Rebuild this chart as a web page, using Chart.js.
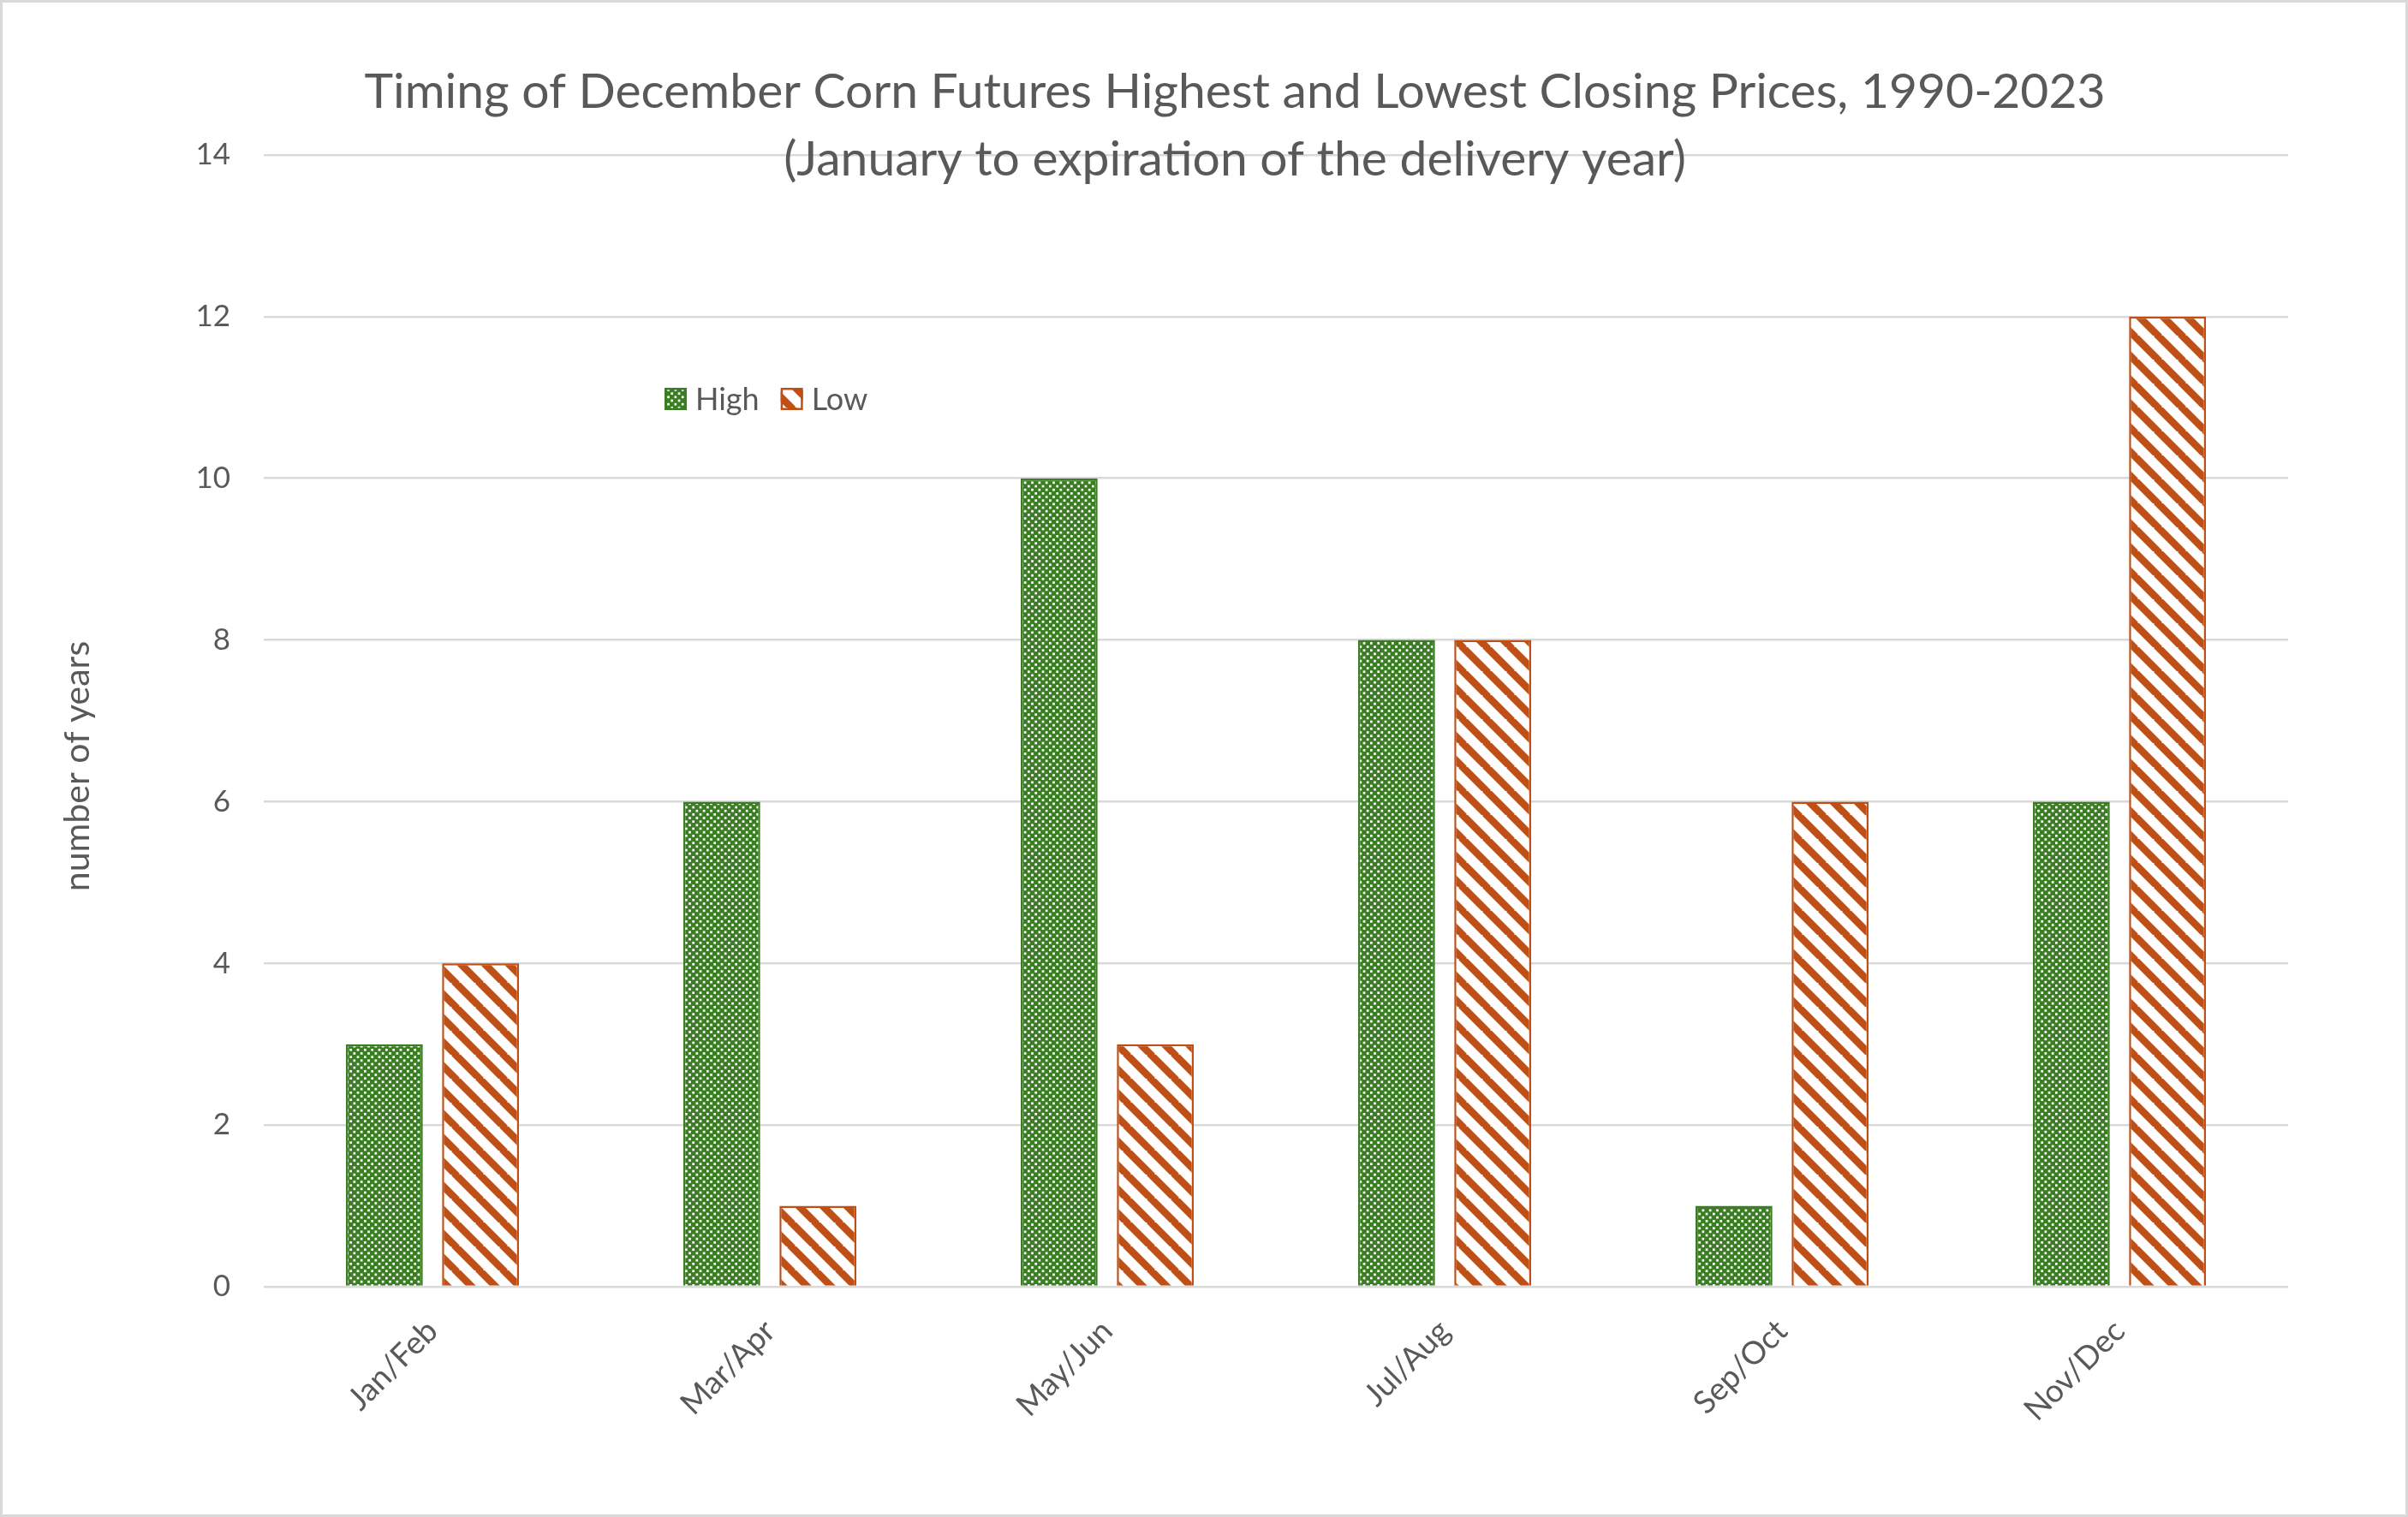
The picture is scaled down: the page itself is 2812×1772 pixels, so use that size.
<!DOCTYPE html>
<html>
<head>
<meta charset="utf-8">
<title>Timing of December Corn Futures Highest and Lowest Closing Prices</title>
<script src="https://cdn.jsdelivr.net/npm/chart.js@4.4.1/dist/chart.umd.min.js"></script>
<style>
    html, body { margin: 0; padding: 0; background: #ffffff; }
    canvas { display: block; }
</style>
</head>
<body>
<canvas id="cornChart" width="2812" height="1772"></canvas>
<script>
// chart data
const periods = ['Jan/Feb', 'Mar/Apr', 'May/Jun', 'Jul/Aug', 'Sep/Oct', 'Nov/Dec'];
const highYears = [3, 6, 10, 8, 1, 6];
const lowYears = [4, 1, 3, 8, 6, 12];
const titleLines = [
    'Timing of December Corn Futures Highest and Lowest Closing Prices, 1990-2023',
    '(January to expiration of the delivery year)'
];
const yAxisLabel = 'number of years';

const GREEN = '#3A7D22';
const RED = '#C04F15';
const TEXT = '#595959';
const GRID = '#d9d9d9';
const FONT = 'Lato';

// small checker pattern (green with white squares), period ~8.3px
function makeChecker(color) {
    const s = 25, p = s / 3, w = 2.7;
    const c = document.createElement('canvas');
    c.width = s; c.height = s;
    const g = c.getContext('2d');
    g.fillStyle = color;
    g.fillRect(0, 0, s, s);
    g.fillStyle = '#ffffff';
    for (let i = 0; i < 3; i++) {
        for (let j = 0; j < 3; j++) {
            g.fillRect(i * p, j * p, w, w);
            g.fillRect(i * p + p / 2, j * p + p / 2, w, w);
        }
    }
    return g.createPattern(c, 'repeat');
}

// wide downward diagonal stripes
function makeStripes(color) {
    const s = 28;
    const c = document.createElement('canvas');
    c.width = s; c.height = s;
    const g = c.getContext('2d');
    g.fillStyle = '#ffffff';
    g.fillRect(0, 0, s, s);
    g.strokeStyle = color;
    g.lineWidth = 8.5;
    for (let k = -1; k <= 1; k++) {
        g.beginPath();
        g.moveTo(k * s - 2, -2);
        g.lineTo(k * s + s + 2, s + 2);
        g.stroke();
    }
    return g.createPattern(c, 'repeat');
}

// legend drawn inside the plot, like the Excel original
const innerLegend = {
    id: 'innerLegend',
    afterDraw(chart, args, opts) {
        const ctx = chart.ctx;
        ctx.save();
        ctx.font = `${opts.size}px ${FONT}`;
        ctx.textBaseline = 'middle';
        ctx.textAlign = 'left';
        let x = opts.x;
        chart.data.datasets.forEach(ds => {
            const b = opts.box;
            ctx.fillStyle = ds.backgroundColor;
            ctx.fillRect(x, opts.y - b / 2, b, b);
            ctx.strokeStyle = ds.borderColor;
            ctx.lineWidth = 2.5;
            ctx.strokeRect(x + 1.25, opts.y - b / 2 + 1.25, b - 2.5, b - 2.5);
            ctx.fillStyle = TEXT;
            ctx.fillText(ds.label, x + b + 10, opts.y + 1);
            x += b + 10 + ctx.measureText(ds.label).width + opts.gap;
        });
        ctx.restore();
    }
};

// title overlapping the plot area (Excel overlay title)
const overlayTitle = {
    id: 'overlayTitle',
    afterDraw(chart, args, opts) {
        const ctx = chart.ctx;
        ctx.save();
        ctx.fillStyle = TEXT;
        ctx.font = `${opts.size}px ${FONT}`;
        ctx.textAlign = 'center';
        ctx.textBaseline = 'middle';
        opts.lines.forEach((line, i) => ctx.fillText(line, opts.x, opts.y + i * opts.gap));
        ctx.restore();
    }
};

// vertical axis title, sits a little below the middle of the axis in the original
const axisLabel = {
    id: 'axisLabel',
    afterDraw(chart, args, opts) {
        const ctx = chart.ctx;
        ctx.save();
        ctx.translate(opts.x, opts.y);
        ctx.rotate(-Math.PI / 2);
        ctx.fillStyle = TEXT;
        ctx.font = `${opts.size}px ${FONT}`;
        ctx.textAlign = 'center';
        ctx.textBaseline = 'middle';
        ctx.fillText(opts.text, 0, 0);
        ctx.restore();
    }
};

const frame = {
    id: 'frame',
    beforeDraw(chart) {
        const ctx = chart.ctx;
        ctx.save();
        ctx.fillStyle = '#ffffff';
        ctx.fillRect(0, 0, chart.width, chart.height);
        ctx.strokeStyle = GRID;
        ctx.lineWidth = 3;
        ctx.strokeRect(1.5, 1.5, chart.width - 3, chart.height - 3);
        ctx.restore();
    }
};

function drawChart() {
    Chart.defaults.font.family = FONT;
    Chart.defaults.color = TEXT;

    new Chart(document.getElementById('cornChart'), {
        type: 'bar',
        data: {
            labels: periods,
            datasets: [
                {
                    label: 'High',
                    data: highYears,
                    backgroundColor: makeChecker(GREEN),
                    borderColor: GREEN,
                    borderWidth: 2.5
                },
                {
                    label: 'Low',
                    data: lowYears,
                    backgroundColor: makeStripes(RED),
                    borderColor: RED,
                    borderWidth: 2.5
                }
            ]
        },
        options: {
            responsive: false,
            devicePixelRatio: 1,
            animation: false,
            categoryPercentage: 0.57,
            barPercentage: 0.8,
            layout: { padding: { top: 181, right: 140, bottom: 0, left: 0 } },
            plugins: {
                legend: { display: false },
                title: { display: false },
                tooltip: { enabled: false },
                overlayTitle: { lines: titleLines, x: 1442, y: 108, gap: 79, size: 57 },
                innerLegend: { x: 776, y: 466, box: 26, size: 36, gap: 25 },
                axisLabel: { text: yAxisLabel, x: 91, y: 895, size: 41 }
            },
            scales: {
                x: {
                    grid: { display: false, drawTicks: false },
                    border: { display: false },
                    ticks: {
                        autoSkip: false,
                        maxRotation: 45,
                        minRotation: 45,
                        padding: 30,
                        font: { size: 37 },
                        color: TEXT
                    },
                    afterFit(scale) { scale.height = 269; }
                },
                y: {
                    min: 0,
                    max: 14,
                    ticks: { stepSize: 2, padding: 39, font: { size: 35 }, color: TEXT },
                    grid: { color: GRID, lineWidth: 2.5, drawTicks: false },
                    border: { display: false },
                    afterFit(scale) { scale.width = 308; }
                }
            }
        },
        plugins: [frame, overlayTitle, innerLegend, axisLabel]
    });
}

if (document.fonts && document.fonts.load) {
    document.fonts.load(`36px ${FONT}`).then(drawChart, drawChart);
} else {
    drawChart();
}
</script>
</body>
</html>
